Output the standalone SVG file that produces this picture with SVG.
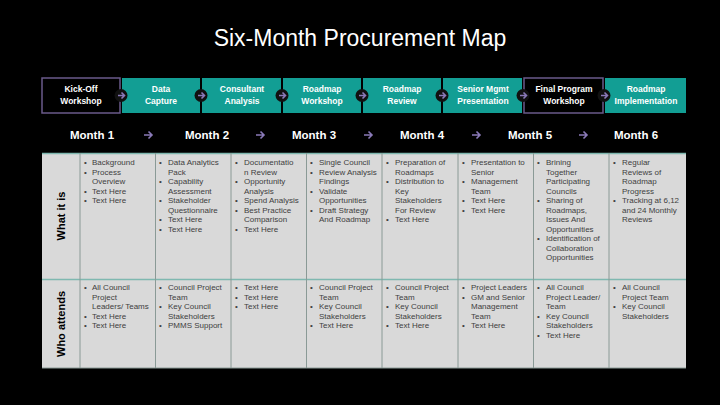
<svg xmlns="http://www.w3.org/2000/svg" width="720" height="405" viewBox="0 0 720 405">
<defs>
<style>
text{font-family:"Liberation Sans",Arial,sans-serif}
.t{font-size:23px;fill:#fff;font-weight:300}
.bx{fill:#129e94}
.bk{fill:#000;stroke:#6a5a8a;stroke-width:1.5}
.bl{font-size:8.5px;fill:#fff;font-weight:bold;text-anchor:middle}
.mo{font-size:11.5px;fill:#fff;font-weight:bold;text-anchor:middle}
.ar{fill:none;stroke:#8a7ab8;stroke-width:1.6}
.cell{fill:#d9d9d9;stroke:#8fa7a0;stroke-width:1}
.c{font-size:8px;fill:#404040}
.rl{font-size:11px;font-weight:bold;fill:#000;text-anchor:middle}
</style>
</defs>
<rect width="720" height="405" fill="#000"/>
<text class="t" x="360" y="46" text-anchor="middle">Six-Month Procurement Map</text>
<g id="steps">
<rect class="bk" x="42" y="78" width="78" height="35"/><text class="bl" x="81" y="92">Kick-Off</text><text class="bl" x="81" y="104">Workshop</text>
<rect class="bx" x="122" y="78" width="78" height="35"/><text class="bl" x="161" y="92">Data</text><text class="bl" x="161" y="104">Capture</text>
<rect class="bx" x="202" y="78" width="79" height="35"/><text class="bl" x="242" y="92">Consultant</text><text class="bl" x="242" y="104">Analysis</text>
<rect class="bx" x="283" y="78" width="78" height="35"/><text class="bl" x="322" y="92">Roadmap</text><text class="bl" x="322" y="104">Workshop</text>
<rect class="bx" x="363" y="78" width="78" height="35"/><text class="bl" x="402" y="92">Roadmap</text><text class="bl" x="402" y="104">Review</text>
<rect class="bx" x="443" y="78" width="79" height="35"/><text class="bl" x="483" y="92">Senior Mgmt</text><text class="bl" x="483" y="104">Presentation</text>
<rect class="bk" x="524" y="78" width="79" height="35"/><text class="bl" x="564" y="92">Final Program</text><text class="bl" x="564" y="104">Workshop</text>
<rect class="bx" x="605" y="78" width="81" height="35"/><text class="bl" x="646" y="92">Roadmap</text><text class="bl" x="646" y="104">Implementation</text>
</g>
<g id="connectors">
<g fill="#111">
<circle cx="121" cy="95.5" r="6.5"/><circle cx="201" cy="95.5" r="6.5"/><circle cx="282" cy="95.5" r="6.5"/><circle cx="362" cy="95.5" r="6.5"/><circle cx="442" cy="95.5" r="6.5"/><circle cx="523" cy="95.5" r="6.5"/><circle cx="604" cy="95.5" r="6.5"/>
</g>
<path class="ar" d="M118 95.5h6M121.5 92.5l3 3-3 3M198 95.5h6M201.5 92.5l3 3-3 3M279 95.5h6M282.5 92.5l3 3-3 3M359 95.5h6M362.5 92.5l3 3-3 3M439 95.5h6M442.5 92.5l3 3-3 3M520 95.5h6M523.5 92.5l3 3-3 3M601 95.5h6M604.5 92.5l3 3-3 3"/>
<path class="ar" d="M144 135h8M148.5 131.5l3.5 3.5-3.5 3.5M256 135h8M260.5 131.5l3.5 3.5-3.5 3.5M364 135h8M368.5 131.5l3.5 3.5-3.5 3.5M472 135h8M476.5 131.5l3.5 3.5-3.5 3.5M579 135h8M583.5 131.5l3.5 3.5-3.5 3.5"/>
</g>
<g id="months">
<text class="mo" x="92" y="139">Month 1</text><text class="mo" x="207" y="139">Month 2</text><text class="mo" x="314" y="139">Month 3</text><text class="mo" x="422" y="139">Month 4</text><text class="mo" x="530" y="139">Month 5</text><text class="mo" x="636" y="139">Month 6</text>
</g>
<g id="table">
<rect x="42" y="153" width="644" height="215" fill="#d9d9d9"/>
<path d="M42 153.5h644M42 279.5h644" stroke="#7fb8b0" stroke-width="1.5"/>
<path d="M80 153v215M155.5 153v215M231 153v215M306.5 153v215M382 153v215M458 153v215M533.5 153v215M609 153v215" stroke="#8a9a96" stroke-width="1"/>
<path d="M42 368h644" stroke="#8a9a96"/>
<text class="rl" transform="translate(65 216) rotate(-90)">What it is</text>
<text class="rl" transform="translate(65 324) rotate(-90)">Who attends</text>
</g>
<g id="what" class="c">
<text x="84" y="165">•</text><text x="92" y="165">Background</text><text x="84" y="174.5">•</text><text x="92" y="174.5">Process</text><text x="92" y="184">Overview</text><text x="84" y="193.5">•</text><text x="92" y="193.5">Text Here</text><text x="84" y="203">•</text><text x="92" y="203">Text Here</text>
<text x="159" y="165">•</text><text x="168" y="165">Data Analytics</text><text x="168" y="174.5">Pack</text><text x="159" y="184">•</text><text x="168" y="184">Capability</text><text x="168" y="193.5">Assessment</text><text x="159" y="203">•</text><text x="168" y="203">Stakeholder</text><text x="168" y="212.5">Questionnaire</text><text x="159" y="222">•</text><text x="168" y="222">Text Here</text><text x="159" y="231.5">•</text><text x="168" y="231.5">Text Here</text>
<text x="235" y="165">•</text><text x="244" y="165">Documentatio</text><text x="244" y="174.5">n Review</text><text x="235" y="184">•</text><text x="244" y="184">Opportunity</text><text x="244" y="193.5">Analysis</text><text x="235" y="203">•</text><text x="244" y="203">Spend Analysis</text><text x="235" y="212.5">•</text><text x="244" y="212.5">Best Practice</text><text x="244" y="222">Comparison</text><text x="235" y="231.5">•</text><text x="244" y="231.5">Text Here</text>
<text x="310" y="165">•</text><text x="319" y="165">Single Council</text><text x="310" y="174.5">•</text><text x="319" y="174.5">Review Analysis</text><text x="319" y="184">Findings</text><text x="310" y="193.5">•</text><text x="319" y="193.5">Validate</text><text x="319" y="203">Opportunities</text><text x="310" y="212.5">•</text><text x="319" y="212.5">Draft Strategy</text><text x="319" y="222">And Roadmap</text>
<text x="386" y="165">•</text><text x="395" y="165">Preparation of</text><text x="395" y="174.5">Roadmaps</text><text x="386" y="184">•</text><text x="395" y="184">Distribution to</text><text x="395" y="193.5">Key</text><text x="395" y="203">Stakeholders</text><text x="395" y="212.5">For Review</text><text x="386" y="222">•</text><text x="395" y="222">Text Here</text>
<text x="462" y="165">•</text><text x="471" y="165">Presentation to</text><text x="471" y="174.5">Senior</text><text x="462" y="184">•</text><text x="471" y="184">Management</text><text x="471" y="193.5">Team</text><text x="462" y="203">•</text><text x="471" y="203">Text Here</text><text x="462" y="212.5">•</text><text x="471" y="212.5">Text Here</text>
<text x="537" y="165">•</text><text x="546" y="165">Brining</text><text x="546" y="174.5">Together</text><text x="546" y="184">Participating</text><text x="546" y="193.5">Councils</text><text x="537" y="203">•</text><text x="546" y="203">Sharing of</text><text x="546" y="212.5">Roadmaps,</text><text x="546" y="222">Issues And</text><text x="546" y="231.5">Opportunities</text><text x="537" y="241">•</text><text x="546" y="241">Identification of</text><text x="546" y="250.5">Collaboration</text><text x="546" y="260">Opportunities</text>
<text x="613" y="165">•</text><text x="622" y="165">Regular</text><text x="622" y="174.5">Reviews of</text><text x="622" y="184">Roadmap</text><text x="622" y="193.5">Progress</text><text x="613" y="203">•</text><text x="622" y="203">Tracking at 6,12</text><text x="622" y="212.5">and 24 Monthly</text><text x="622" y="222">Reviews</text>
</g>
<g id="who" class="c">
<text x="84" y="290">•</text><text x="92" y="290">All Council</text><text x="92" y="299.5">Project</text><text x="92" y="309">Leaders/ Teams</text><text x="84" y="318.5">•</text><text x="92" y="318.5">Text Here</text><text x="84" y="328">•</text><text x="92" y="328">Text Here</text>
<text x="159" y="290">•</text><text x="168" y="290">Council Project</text><text x="168" y="299.5">Team</text><text x="159" y="309">•</text><text x="168" y="309">Key Council</text><text x="168" y="318.5">Stakeholders</text><text x="159" y="328">•</text><text x="168" y="328">PMMS Support</text>
<text x="235" y="290">•</text><text x="244" y="290">Text Here</text><text x="235" y="299.5">•</text><text x="244" y="299.5">Text Here</text><text x="235" y="309">•</text><text x="244" y="309">Text Here</text>
<text x="310" y="290">•</text><text x="319" y="290">Council Project</text><text x="319" y="299.5">Team</text><text x="310" y="309">•</text><text x="319" y="309">Key Council</text><text x="319" y="318.5">Stakeholders</text><text x="310" y="328">•</text><text x="319" y="328">Text Here</text>
<text x="386" y="290">•</text><text x="395" y="290">Council Project</text><text x="395" y="299.5">Team</text><text x="386" y="309">•</text><text x="395" y="309">Key Council</text><text x="395" y="318.5">Stakeholders</text><text x="386" y="328">•</text><text x="395" y="328">Text Here</text>
<text x="462" y="290">•</text><text x="471" y="290">Project Leaders</text><text x="462" y="299.5">•</text><text x="471" y="299.5">GM and Senior</text><text x="471" y="309">Management</text><text x="471" y="318.5">Team</text><text x="462" y="328">•</text><text x="471" y="328">Text Here</text>
<text x="537" y="290">•</text><text x="546" y="290">All Council</text><text x="546" y="299.5">Project Leader/</text><text x="546" y="309">Team</text><text x="537" y="318.5">•</text><text x="546" y="318.5">Key Council</text><text x="546" y="328">Stakeholders</text><text x="537" y="337.5">•</text><text x="546" y="337.5">Text Here</text>
<text x="613" y="290">•</text><text x="622" y="290">All Council</text><text x="622" y="299.5">Project Team</text><text x="613" y="309">•</text><text x="622" y="309">Key Council</text><text x="622" y="318.5">Stakeholders</text>
</g>
</svg>
